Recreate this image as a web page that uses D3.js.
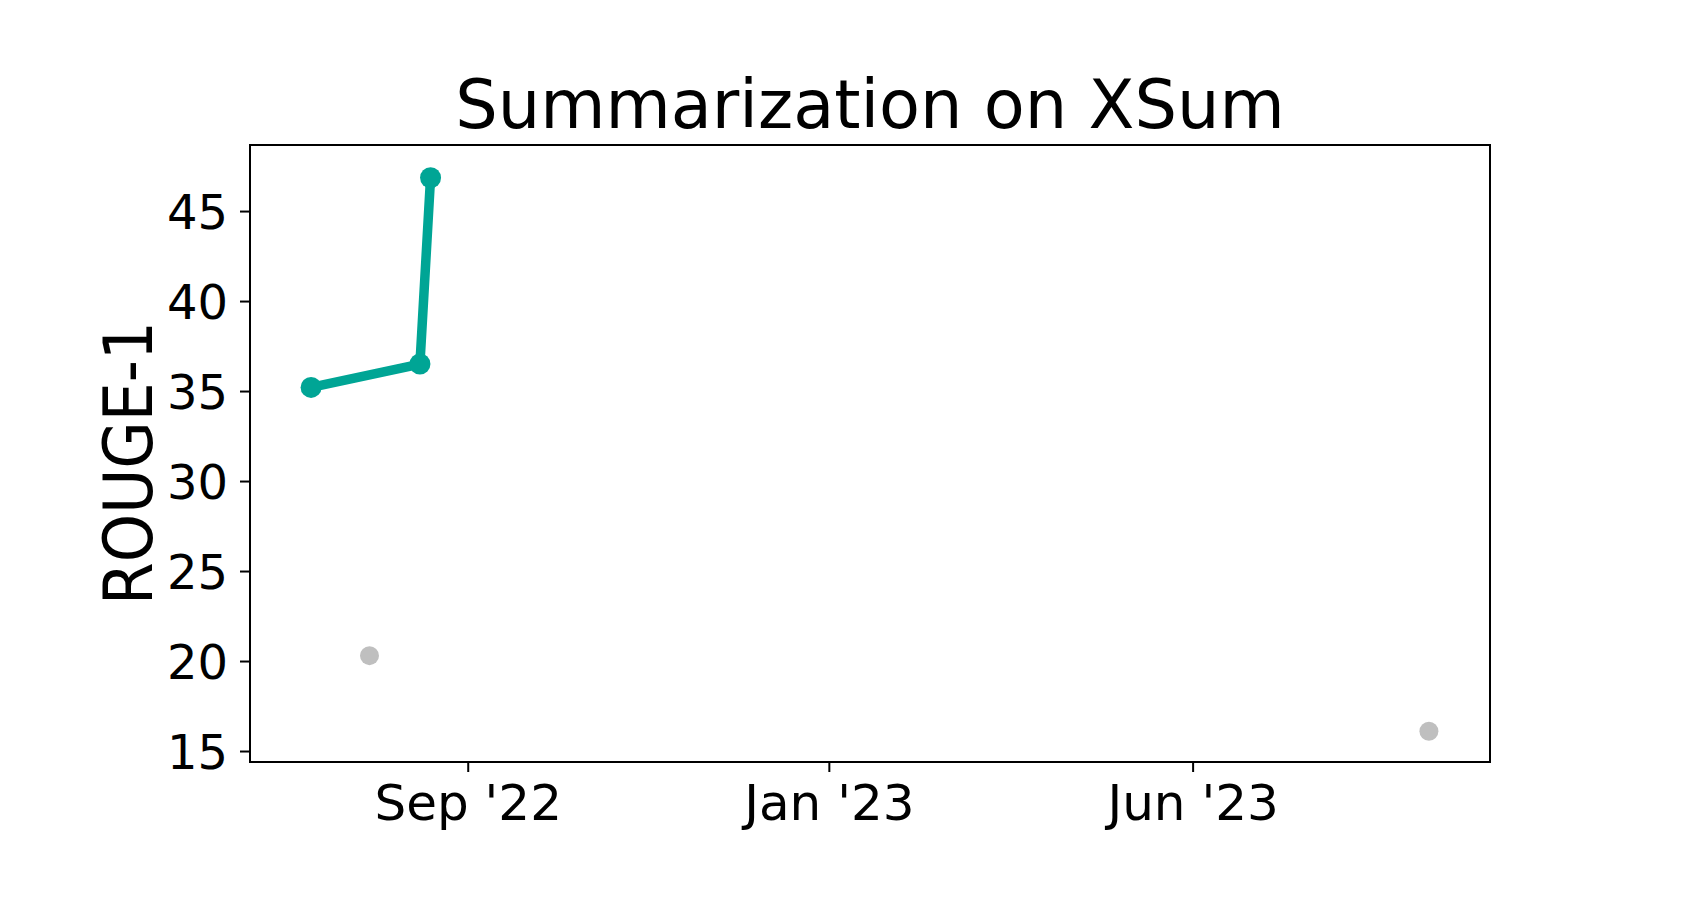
<html>
<head>
    <style>
        body { margin: 0; background: #fff; }
        text { font-family: "DejaVu Sans", sans-serif; }
    </style>
</head>
<body>
    <svg id="chart"></svg>
</body>
<script src="https://cdnjs.cloudflare.com/ajax/libs/d3/7.8.5/d3.min.js"></script>
<script>
    // data
    var mainDates = ["2022-07-04", "2022-08-14", "2022-08-18"];
    var mainScores = [35.2, 36.5, 46.85];
    var otherDates = ["2022-07-26", "2023-08-29"];
    var otherScores = [20.3, 16.1];
    var xTickDates = ["2022-09-01", "2023-01-15", "2023-06-01"];
    var xTickLabels = ["Sep '22", "Jan '23", "Jun '23"];
    var yTicks = [15, 20, 25, 30, 35, 40, 45];
    var xDomain = ["2022-06-11", "2023-09-21"];
    var yDomain = [14.39, 48.67];

    var width = 1700;
    var height = 900;
    var plotLeft = 250, plotRight = 1490, plotTop = 145, plotBottom = 762;

    var parse = d3.utcParse("%Y-%m-%d");

    var svg = d3.select('#chart')
        .attr('width', width)
        .attr('height', height);

    svg.append('rect')
        .attr('width', width)
        .attr('height', height)
        .attr('fill', '#fff');

    var x = d3.scaleUtc()
        .domain(xDomain.map(parse))
        .range([plotLeft, plotRight]);

    var y = d3.scaleLinear()
        .domain(yDomain)
        .range([plotBottom, plotTop]);

    var xAxis = d3.axisBottom(x)
        .tickValues(xTickDates.map(parse))
        .tickFormat((d, i) => xTickLabels[i])
        .tickSize(10)
        .tickPadding(12);

    var yAxis = d3.axisLeft(y)
        .tickValues(yTicks)
        .tickSize(10)
        .tickPadding(12);

    var gx = svg.append('g')
        .attr('transform', 'translate(0,' + plotBottom + ')')
        .call(xAxis);
    var gy = svg.append('g')
        .attr('transform', 'translate(' + plotLeft + ',0)')
        .call(yAxis);

    [gx, gy].forEach(g => {
        g.select('.domain').remove();
        g.selectAll('line').attr('stroke', '#000').attr('stroke-width', 2);
        g.selectAll('text')
            .attr('fill', '#000')
            .style('font-family', '"DejaVu Sans", sans-serif')
            .style('font-size', '48px');
    });
    gx.selectAll('text').style('font-size', '50px');
    gy.selectAll('text').attr('dy', '0.36em');

    // frame
    svg.append('rect')
        .attr('x', plotLeft)
        .attr('y', plotTop)
        .attr('width', plotRight - plotLeft)
        .attr('height', plotBottom - plotTop)
        .attr('fill', 'none')
        .attr('stroke', '#000')
        .attr('stroke-width', 2);

    var mainData = mainDates.map((d, i) => ({ date: parse(d), value: mainScores[i] }));
    var otherData = otherDates.map((d, i) => ({ date: parse(d), value: otherScores[i] }));

    svg.selectAll('.other')
        .data(otherData)
        .enter()
        .append('circle')
        .classed('other', true)
        .attr('cx', d => x(d.date))
        .attr('cy', d => y(d.value))
        .attr('r', 9.5)
        .attr('fill', '#bfbfbf');

    var line = d3.line()
        .x(d => x(d.date))
        .y(d => y(d.value));

    svg.append('path')
        .datum(mainData)
        .attr('d', line)
        .attr('fill', 'none')
        .attr('stroke', '#00a595')
        .attr('stroke-width', 9.5)
        .attr('stroke-linejoin', 'round');

    svg.selectAll('.main')
        .data(mainData)
        .enter()
        .append('circle')
        .classed('main', true)
        .attr('cx', d => x(d.date))
        .attr('cy', d => y(d.value))
        .attr('r', 10.5)
        .attr('fill', '#00a595');

    svg.append('text')
        .attr('x', (plotLeft + plotRight) / 2)
        .attr('y', 128)
        .attr('text-anchor', 'middle')
        .style('font-size', '67px')
        .text('Summarization on XSum');

    svg.append('text')
        .attr('transform', 'translate(152,463) rotate(-90)')
        .attr('text-anchor', 'middle')
        .attr('textLength', 284)
        .attr('lengthAdjust', 'spacingAndGlyphs')
        .style('font-size', '67px')
        .text('ROUGE-1');
</script>
</html>
